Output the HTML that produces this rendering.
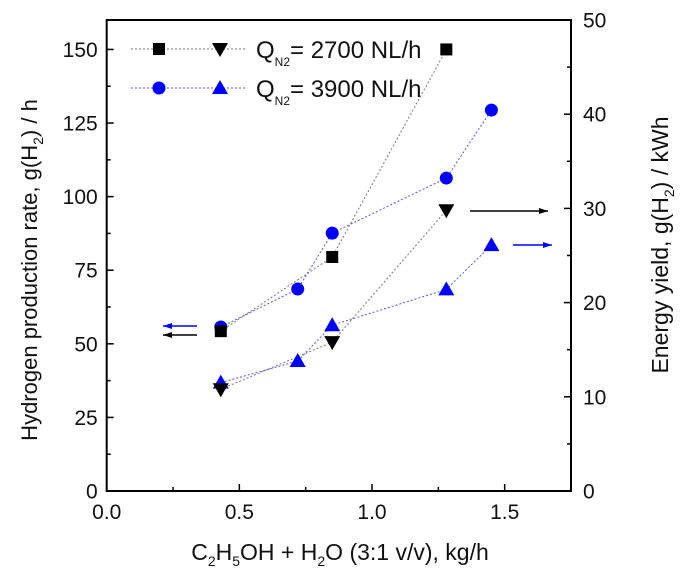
<!DOCTYPE html>
<html><head><meta charset="utf-8"><style>
body{margin:0;background:#fff}
svg{display:block;font-family:"Liberation Sans",Arial,sans-serif}
</style></head><body>
<svg id="chart" width="685" height="572" viewBox="0 0 685 572"></svg>
<script>
const xTicks=[0.0,0.5,1.0,1.5];
const xTickLabels=["0.0","0.5","1.0","1.5"];
const yLeftTicks=[0,25,50,75,100,125,150];
const yRightTicks=[0,10,20,30,40,50];
const sqX=[0.43,0.85,1.28];
const sqY=[54.3,79.5,150];
const ciX=[0.43,0.72,0.85,1.28,1.45];
const ciY=[55.7,68.6,87.6,106.3,129.4];
const dnX=[0.43,0.85,1.28];
const dnY=[10.8,15.8,29.8];
const upX=[0.43,0.72,0.85,1.28,1.45];
const upY=[11.5,13.8,17.6,21.4,26.1];

const L=106.7,R=571,T=20,B=491;
const xMax=1.75,yLMax=160,yRMax=50;
const sx=v=>L+(R-L)*v/xMax;
const syL=v=>B-(B-T)*v/yLMax;
const syR=v=>B-(B-T)*v/yRMax;
const svg=document.getElementById('chart');
const NS='http://www.w3.org/2000/svg';
function mk(tag,attrs,parent){const e=document.createElementNS(NS,tag);for(const k in attrs)e.setAttribute(k,attrs[k]);(parent||svg).appendChild(e);return e;}

const frame=mk('rect',{x:L,y:T,width:R-L,height:B-T,fill:'none',stroke:'#000','stroke-width':2});



for(let i=0;i<xTicks.length;i++){
  const x=sx(xTicks[i]);
  const t=mk('line',{x1:x,y1:B,x2:x,y2:B-7,stroke:'#000','stroke-width':1.5});
  
  
  const lb=mk('text',{x:x,y:519,'font-size':21,'text-anchor':'middle',fill:'#111'});
  lb.textContent=xTickLabels[i];
  
  
}
for(let v=0.25;v<xMax;v+=0.5){
  const x=sx(v);
  const t=mk('line',{x1:x,y1:B,x2:x,y2:B-4,stroke:'#000','stroke-width':1.5});
  
  
}
for(const v of yLeftTicks){
  const y=syL(v);
  const t=mk('line',{x1:L,y1:y,x2:L+7,y2:y,stroke:'#000','stroke-width':1.5});
  
  
  const lb=mk('text',{x:L-9,y:y+7.5,'font-size':21,'text-anchor':'end',fill:'#111'});
  lb.textContent=String(v);
  
  
  if(v+12.5<yLMax){
    const m=mk('line',{x1:L,y1:syL(v+12.5),x2:L+4,y2:syL(v+12.5),stroke:'#000','stroke-width':1.5});
    
    
  }
}
for(const v of yRightTicks){
  const y=syR(v);
  const t=mk('line',{x1:R,y1:y,x2:R-7,y2:y,stroke:'#000','stroke-width':1.5});
  
  
  const lb=mk('text',{x:R+12,y:y+7.5,'font-size':21,'text-anchor':'start',fill:'#111'});
  lb.textContent=String(v);
  
  
  if(v+5<yRMax){
    const m=mk('line',{x1:R,y1:syR(v+5),x2:R-4,y2:syR(v+5),stroke:'#000','stroke-width':1.5});
    
    
  }
}

function line(xs,ys,sy,color,name){
  const p=mk('polyline',{points:xs.map((x,i)=>sx(x)+','+sy(ys[i])).join(' '),fill:'none',stroke:color,'stroke-width':1,'stroke-dasharray':'2,2'});
  
  
}
function marker(type,x,y,color,name){
  let e;
  if(type==='sq')e=mk('rect',{x:x-6,y:y-6,width:12,height:12,fill:color});
  else if(type==='ci')e=mk('circle',{cx:x,cy:y,r:6.5,fill:color});
  else if(type==='dn')e=mk('polygon',{points:`${x-8},${y-6} ${x+8},${y-6} ${x},${y+8}`,fill:color});
  else e=mk('polygon',{points:`${x-8},${y+6} ${x+8},${y+6} ${x},${y-8}`,fill:color});
  
  
}
line(sqX,sqY,syL,'#777','line-2700-rate');
line(dnX,dnY,syR,'#777','line-2700-yield');
line(ciX,ciY,syL,'#5555dd','line-3900-rate');
line(upX,upY,syR,'#5555dd','line-3900-yield');
ciX.forEach((x,i)=>marker('ci',sx(x),syL(ciY[i]),'#0000ff','point-3900-rate'));
sqX.forEach((x,i)=>marker('sq',sx(x),syL(sqY[i]),'#000','point-2700-rate'));
upX.forEach((x,i)=>marker('up',sx(x),syR(upY[i]),'#0000ff','point-3900-yield'));
dnX.forEach((x,i)=>marker('dn',sx(x),syR(dnY[i]),'#000','point-2700-yield'));

function arrow(x1,x2,y,color,name){
  const g=mk('g',{});
  
  
  mk('line',{x1:x1,y1:y,x2:x2,y2:y,stroke:color,'stroke-width':1.5},g);
  const d=x2>x1?1:-1;
  mk('polygon',{points:`${x2},${y} ${x2-d*9},${y-3} ${x2-d*9},${y+3}`,fill:color},g);
}
arrow(197,163,326,'#0000ff','arrow-3900-left-axis');
arrow(197,163,335,'#000','arrow-2700-left-axis');
arrow(470,548,211,'#000','arrow-2700-right-axis');
arrow(513,552,245,'#0000ff','arrow-3900-right-axis');
</script>
<svg style="position:absolute;left:0;top:0" width="685" height="572">
  <g font-family="Liberation Sans, Arial, sans-serif">
    <g>
      <line x1="131" y1="49" x2="246" y2="49" stroke="#777" stroke-dasharray="2,2"/>
      <rect x="153" y="43" width="12" height="12" fill="#000"/>
      <polygon points="212,43 228,43 220,57" fill="#000"/>
      <text x="256" y="58" font-size="24" fill="#111">Q<tspan font-size="12" dy="8">N2</tspan><tspan dy="-8">= 2700 NL/h</tspan></text>
    </g>
    <g>
      <line x1="131" y1="88" x2="246" y2="88" stroke="#5555dd" stroke-dasharray="2,2"/>
      <circle cx="159" cy="88" r="6.5" fill="#0000ff"/>
      <polygon points="212,94 228,94 220,80" fill="#0000ff"/>
      <text x="256" y="97" font-size="24" fill="#111">Q<tspan font-size="12" dy="8">N2</tspan><tspan dy="-8">= 3900 NL/h</tspan></text>
    </g>
  </g>
  <text x="340" y="560" font-size="23" text-anchor="middle" font-family="Liberation Sans, Arial, sans-serif" fill="#111">C<tspan font-size="14" dy="6">2</tspan><tspan dy="-6">H</tspan><tspan font-size="14" dy="6">5</tspan><tspan dy="-6">OH + H</tspan><tspan font-size="14" dy="6">2</tspan><tspan dy="-6">O (3:1 v/v), kg/h</tspan></text>
  <text transform="translate(37,270) rotate(-90)" font-size="22" text-anchor="middle" font-family="Liberation Sans, Arial, sans-serif" fill="#111">Hydrogen production rate, g(H<tspan font-size="14" dy="6">2</tspan><tspan dy="-6">) / h</tspan></text>
  <text transform="translate(668,245) rotate(-90)" font-size="23" text-anchor="middle" font-family="Liberation Sans, Arial, sans-serif" fill="#111">Energy yield, g(H<tspan font-size="14" dy="6">2</tspan><tspan dy="-6">) / kWh</tspan></text>
</svg>
</body></html>
